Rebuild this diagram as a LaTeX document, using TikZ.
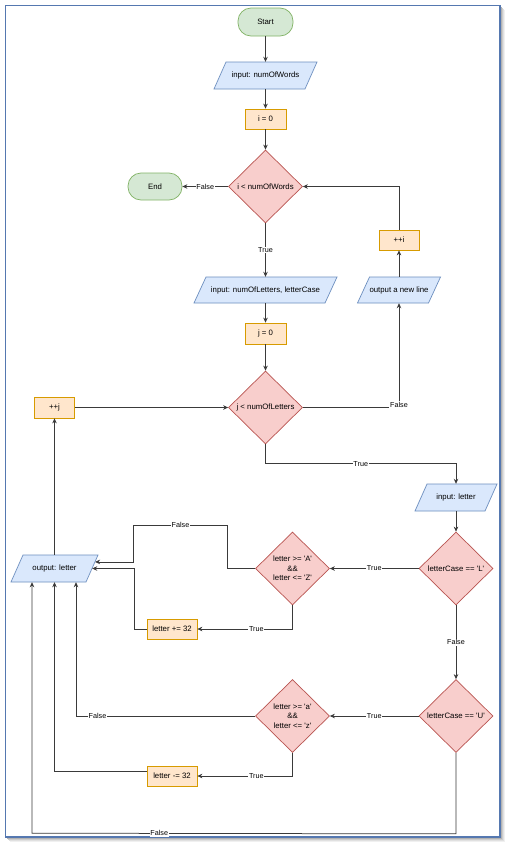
\documentclass[tikz,border=0pt]{standalone}
\usepackage{fontspec}
\newfontfamily\df{Liberation Sans}
\usetikzlibrary{shapes.geometric,arrows.meta,calc}
\definecolor{gF}{HTML}{D5E8D4}\definecolor{gS}{HTML}{82B366}
\definecolor{bF}{HTML}{DAE8FC}\definecolor{bS}{HTML}{6C8EBF}
\definecolor{oF}{HTML}{FFE6CC}\definecolor{oS}{HTML}{D79B00}
\definecolor{rF}{HTML}{F8CECC}\definecolor{rS}{HTML}{B85450}
\definecolor{frameC}{HTML}{5578B0}
\definecolor{lineC}{HTML}{3A3A3A}
\newcommand\para[6]{%
  \draw[bS, fill=bF, line width=0.7pt] ({#2-#4/2},{#3+#5/2}) -- ({#2-#4/2+12},{#3-#5/2}) -- ({#2+#4/2},{#3-#5/2}) -- ({#2+#4/2-12},{#3+#5/2}) -- cycle;
  \node[inner sep=0pt, minimum width={(#4-12)*1pt}, minimum height={#5*1pt}] (#1) at (#2,#3) {#6};}
\begin{document}
\begin{tikzpicture}[x=1pt,y=-1pt,
  every node/.style={font=\df\fontsize{7.8}{9.6}\selectfont, text=black},
  term/.style={rectangle, rounded corners=13pt, draw=gS, fill=gF, line width=0.7pt, minimum width=55pt, minimum height=28pt, inner sep=0pt},
  proc/.style={rectangle, draw=oS, fill=oF, line width=0.7pt, minimum width=41pt, minimum height=20pt, inner sep=0pt},
  dec/.style={diamond, draw=rS, fill=rF, line width=0.7pt, minimum width=74pt, minimum height=73pt, inner sep=0pt, aspect=1, align=center},
  arr/.style={draw=lineC, line width=0.75pt, -{Stealth[length=5pt,width=4.5pt]}},
  lbl/.style={font=\df\fontsize{7.2}{8}\selectfont, fill=white, inner sep=0.8pt}
]
\useasboundingbox (0,0) rectangle (506,846);
\foreach \o/\c in {5/6, 4/12, 3/20, 2/30, 1/40}
  \fill[black!\c] ({5+\o},{5+\o}) rectangle ({500+\o},{837+\o});
\draw[frameC, line width=1.2pt, fill=white] (5.5,5.5) rectangle (500,837);

\node[term] (start) at (265.5,22) {Start};
\para{in1}{265.5}{75.5}{103}{27}{input: numOfWords}
\node[proc] (i0) at (265.5,119) {i = 0};
\node[dec] (d1) at (265.5,186.5) {i < numOfWords};
\node[term, minimum width=54pt, minimum height=27pt] (end) at (155,186.5) {End};
\node[proc, minimum width=40pt] (inci) at (399,240) {++i};
\para{outnl}{399}{290}{83}{26}{output a new line}
\para{in2}{265.5}{290}{143}{26}{input: numOfLetters, letterCase}
\node[proc, minimum height=21pt] (j0) at (265.5,333.5) {j = 0};
\node[dec] (d2) at (265.5,407.5) {j < numOfLetters};
\node[proc, minimum width=40pt, minimum height=21pt] (incj) at (54.5,407.5) {++j};
\para{inl}{456}{497.5}{82}{27}{input: letter}
\node[dec] (dL) at (456,568.5) {letterCase == 'L'};
\node[dec] (dA) at (292.5,568.5) {letter >= 'A'\\\&\&\\letter <= 'Z'};
\para{ol}{54.5}{568.5}{87}{27}{output: letter}
\coordinate (olTR) at ($(ol.north east)+(6,0)$);
\coordinate (olBR) at ($(ol.south east)+(-6,0)$);
\node[proc, minimum width=50pt] (lp) at (172,629) {letter += 32};
\node[dec] (dU) at (456,716) {letterCase == 'U'};
\node[dec] (da) at (292.5,716) {letter >= 'a'\\\&\&\\letter <= 'z'};
\node[proc, minimum width=50pt] (lm) at (172,776) {letter -= 32};

\draw[arr] (start) -- (in1);
\draw[arr] (in1) -- (i0);
\draw[arr] (i0) -- (d1);
\draw[arr] (d1.west) -- node[lbl]{False} (end.east);
\draw[arr] (d1.south) -- node[lbl]{True} (in2.north);
\draw[arr] (in2) -- (j0);
\draw[arr] (j0) -- (d2);
\draw[arr] (d2.east) -| node[lbl,pos=0.5,yshift=3pt]{False} (outnl.south);
\draw[arr] (outnl) -- (inci);
\draw[arr] (inci.north) |- (d1.east);
\draw[arr] (incj.east) -- (d2.west);
\draw[arr] (d2.south) |- node[lbl,pos=0.75]{True} ($(inl.north)+(0,-20)$) -- (inl.north);
\draw[arr] (inl) -- (dL);
\draw[arr] (dL.west) -- node[lbl]{True} (dA.east);
\draw[arr] (dA.west) -- ++(-27.8,0) -- ++(0,-43.5) -- node[lbl]{False} ++(-93.7,0) |- ($(olTR)!0.26!(olBR)$);
\draw[arr] (dA.south) |- node[lbl,pos=0.69]{True} (lp.east);
\draw[arr] (lp.west) -- ++(-12,0) |- ($(olTR)!0.5!(olBR)$);
\draw[arr] (ol.north) -- (incj.south);
\draw[arr] (dL.south) -- node[lbl]{False} (dU.north);
\draw[arr] (dU.west) -- node[lbl]{True} (da.east);
\draw[arr] (da.west) -| node[lbl,pos=0.44]{False} ($(ol.south)+(21.5,0)$);
\draw[arr] (da.south) |- node[lbl,pos=0.69]{True} (lm.east);
\draw[arr] ($(lm.west)+(0,-5)$) -| (ol.south);
\draw[arr] (dU.south) -- ++(0,81) -- node[lbl,pos=0.7]{False} ($(ol.south)+(-22.5,251)$) -- ($(ol.south)+(-22.5,0)$);
\end{tikzpicture}
\end{document}
